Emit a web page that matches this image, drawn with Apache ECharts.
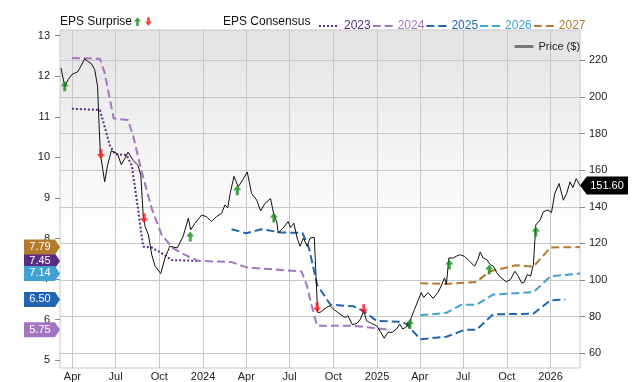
<!DOCTYPE html>
<html><head><meta charset="utf-8">
<script src="https://cdn.jsdelivr.net/npm/echarts@6/dist/echarts.min.js"></script>
<style>html,body{margin:0;padding:0;background:#fff}#chart{width:640px;height:382px}</style>
</head><body><div id="chart"></div>
<script>
const xStart = '2023-03-06', xEnd = '2026-03-04';
const xTickDates = ['2023-04-01','2023-07-01','2023-10-01','2024-01-01','2024-04-01','2024-07-01','2024-10-01','2025-01-01','2025-04-01','2025-07-01','2025-10-01','2026-01-01'];
const xTickLabels = ['Apr','Jul','Oct','2024','Apr','Jul','Oct','2025','Apr','Jul','Oct','2026'];
const epsTicks = [5,6,7,8,9,10,11,12,13];
const priceTicks = [60,80,100,120,140,160,180,200,220];

const priceDates = ['2023-03-08','2023-03-16','2023-03-23','2023-03-31','2023-04-12','2023-04-17','2023-04-27','2023-05-03','2023-05-11','2023-05-18','2023-05-24','2023-05-27','2023-05-30','2023-06-08','2023-06-14','2023-06-22','2023-07-05','2023-07-13','2023-07-20','2023-07-27','2023-08-07','2023-08-17','2023-08-23','2023-08-28','2023-09-01','2023-09-08','2023-09-15','2023-09-22','2023-10-04','2023-10-13','2023-10-23','2023-11-08','2023-11-20','2023-12-01','2023-12-06','2023-12-15','2023-12-29','2024-01-08','2024-01-19','2024-01-29','2024-02-09','2024-02-16','2024-02-22','2024-02-27','2024-03-06','2024-03-15','2024-03-26','2024-04-03','2024-04-12','2024-04-23','2024-05-01','2024-05-10','2024-05-22','2024-05-29','2024-06-04','2024-06-07','2024-06-17','2024-06-28','2024-07-03','2024-07-10','2024-07-17','2024-07-23','2024-07-30','2024-08-07','2024-08-13','2024-08-22','2024-08-26','2024-08-29','2024-09-03','2024-09-17','2024-09-24','2024-10-04','2024-10-15','2024-10-25','2024-11-01','2024-11-10','2024-11-20','2024-11-27','2024-12-04','2024-12-10','2024-12-20','2024-12-31','2025-01-09','2025-01-16','2025-01-24','2025-02-02','2025-02-11','2025-02-18','2025-02-24','2025-03-04','2025-03-07','2025-03-10','2025-03-14','2025-03-21','2025-03-28','2025-04-04','2025-04-09','2025-04-18','2025-04-29','2025-05-09','2025-05-16','2025-05-23','2025-05-27','2025-06-01','2025-06-10','2025-06-17','2025-06-25','2025-07-04','2025-07-15','2025-07-25','2025-08-01','2025-08-06','2025-08-12','2025-08-20','2025-08-27','2025-09-03','2025-09-10','2025-09-19','2025-09-30','2025-10-09','2025-10-18','2025-10-25','2025-11-01','2025-11-06','2025-11-13','2025-11-20','2025-11-26','2025-12-01','2025-12-10','2025-12-17','2025-12-27','2026-01-03','2026-01-10','2026-01-19','2026-01-28','2026-02-04','2026-02-11','2026-02-17','2026-02-24','2026-03-04'];
const priceValues = [215.9,205.9,209.5,212.3,213.7,215.9,220.8,219.5,218.2,215.0,205.9,186.0,168.9,153.6,162.6,170.7,168.9,163.0,166.2,169.8,165.3,162.6,157.2,135.5,129.2,124.7,113.8,107.5,103.5,112.0,118.4,117.5,123.8,133.7,127.4,131.0,135.5,134.6,131.9,134.6,136.4,141.0,139.5,147.3,156.6,150.9,155.4,159.0,147.3,143.6,137.7,141.8,144.5,135.5,131.9,125.6,128.3,131.9,128.7,131.0,122.9,118.4,122.9,118.4,122.9,123.4,123.0,82.3,82.3,85.0,85.9,83.5,81.3,79.5,80.4,75.6,76.3,78.6,83.1,77.7,76.3,75.0,71.4,68.2,71.4,71.4,73.2,75.9,73.2,74.5,76.8,75.0,79.5,84.0,88.6,93.1,90.4,93.1,90.0,93.1,96.7,101.2,97.6,112.0,112.0,113.0,113.8,112.9,110.2,107.5,111.1,115.3,112.0,111.1,108.4,107.5,103.9,101.2,99.0,100.3,104.8,102.1,98.5,98.5,103.0,102.1,108.4,130.1,132.8,137.3,138.2,136.8,147.3,152.7,143.6,147.3,153.6,150.4,155.4,151.6];

const eps2023Dates = ['2023-03-31','2023-05-29','2023-06-19','2023-06-30','2023-07-24','2023-08-04','2023-08-18','2023-08-28','2023-09-15','2023-10-06','2023-10-27','2023-12-20'];
const eps2023Values = [11.20,11.17,10.29,10.08,10.06,9.80,8.66,7.80,7.78,7.64,7.47,7.45];
const eps2024Dates = ['2023-03-31','2023-05-29','2023-06-08','2023-06-27','2023-07-27','2023-08-07','2023-08-25','2023-09-15','2023-10-06','2023-10-30','2023-11-24','2023-12-22','2024-03-01','2024-04-01','2024-07-26','2024-08-06','2024-08-16','2024-08-28','2024-11-13','2025-01-30'];
const eps2024Values = [12.45,12.43,12.08,10.96,10.92,10.53,9.64,8.74,8.09,7.76,7.60,7.45,7.42,7.29,7.19,6.86,6.37,5.85,5.85,5.75];
const eps2025Dates = ['2024-03-01','2024-04-01','2024-05-02','2024-06-13','2024-07-28','2024-08-11','2024-08-28','2024-09-25','2024-11-13','2024-12-04','2024-12-31','2025-02-22','2025-03-04','2025-04-02','2025-05-27','2025-07-04','2025-07-29','2025-09-02','2025-11-26','2026-01-01','2026-02-01'];
const eps2025Values = [8.23,8.13,8.23,8.15,8.14,7.76,6.86,6.37,6.33,6.21,5.97,5.95,5.89,5.52,5.58,5.75,5.75,6.13,6.15,6.48,6.50];
const eps2026Dates = ['2025-04-02','2025-05-27','2025-06-28','2025-07-29','2025-09-02','2025-11-26','2026-01-01','2026-03-04'];
const eps2026Values = [6.11,6.17,6.37,6.37,6.62,6.68,7.07,7.14];
const eps2027Dates = ['2025-04-02','2025-05-27','2025-07-29','2025-08-26','2025-10-20','2025-11-26','2026-01-01','2026-03-04'];
const eps2027Values = [6.90,6.88,6.93,7.19,7.34,7.31,7.78,7.79];

const beatDates = ['2023-03-16','2023-12-05','2024-03-13','2024-05-29','2025-03-11','2025-06-02','2025-08-25','2025-12-01'];
const beatPrices = [205.9,123.8,149.0,134.1,75.9,108.4,105.7,126.5];
const missDates = ['2023-05-31','2023-08-30','2024-08-28','2024-12-04'];
const missPrices = [168.9,133.7,85.0,84.0];

const FONT = "'Liberation Sans', Arial, Helvetica, sans-serif";
const T = d => Date.parse(d);
const xMin = T(xStart), xMax = T(xEnd);
const xTicks = xTickDates.map(T);
const pairs = (ds, vs) => ds.map((d, i) => [T(d), vs[i]]);

const years = [
  {name:'2023', dates:eps2023Dates, values:eps2023Values, color:'#5c2b84', type:'dotted'},
  {name:'2024', dates:eps2024Dates, values:eps2024Values, color:'#a476c1', type:'dashed'},
  {name:'2025', dates:eps2025Dates, values:eps2025Values, color:'#2265b2', type:'dashed'},
  {name:'2026', dates:eps2026Dates, values:eps2026Values, color:'#3fa2d3', type:'dashed'},
  {name:'2027', dates:eps2027Dates, values:eps2027Values, color:'#b27b2e', type:'dashed'}
];

const upArrow = 'path://M4,0L8,5L5.5,5L5.5,10L2.5,10L2.5,5L0,5Z';
const downArrow = 'path://M4,10L8,5L5.5,5L5.5,0L2.5,0L2.5,5L0,5Z';

const series = years.map(y => {
  const last = y.values[y.values.length - 1];
  return {
    name: y.name, type: 'line', yAxisIndex: 0, symbol: 'none', silent: true,
    data: pairs(y.dates, y.values),
    lineStyle: {color: y.color, width: 2, type: y.type},
    itemStyle: {color: y.color},
    z: 2,
    markPoint: {
      silent: true,
      symbol: 'path://M0,0L31,0L36,7L31,14L0,14Z',
      symbolSize: [36, 15], symbolOffset: [-18, 0], symbolKeepAspect: false,
      itemStyle: {color: y.color},
      label: {show: true, color: '#fff', fontSize: 11, fontFamily: FONT, offset: [-2, 0], formatter: p => p.value},
      data: [{coord: [xMin, last], value: last.toFixed(2)}]
    }
  };
});

series.push({
  name: 'Price ($)', type: 'line', yAxisIndex: 1, symbol: 'none', silent: true,
  data: pairs(priceDates, priceValues),
  lineStyle: {color: '#111', width: 1},
  itemStyle: {color: '#111'},
  z: 3,
  markPoint: {
    silent: true,
    symbol: 'path://M0,9L7,0L50,0L50,18L7,18Z',
    symbolSize: [48, 18], symbolOffset: [24, 0], symbolKeepAspect: false,
    itemStyle: {color: '#000'},
    label: {show: true, color: '#fff', fontSize: 11, fontFamily: FONT, offset: [3, 0], formatter: p => p.value},
    data: [{coord: [xMax, priceValues[priceValues.length - 1]], value: priceValues[priceValues.length - 1].toFixed(2)}]
  }
});
series.push({
  name: 'Beat', type: 'scatter', yAxisIndex: 1, silent: true,
  symbol: upArrow, symbolSize: [8, 10], itemStyle: {color: '#138a13'},
  data: pairs(beatDates, beatPrices), z: 5
});
series.push({
  name: 'Miss', type: 'scatter', yAxisIndex: 1, silent: true,
  symbol: downArrow, symbolSize: [8, 10], itemStyle: {color: '#ff1010'},
  data: pairs(missDates, missPrices), z: 5
});

const chart = echarts.init(document.getElementById('chart'), null, {renderer: 'canvas'});
chart.setOption({
  animation: false,
  textStyle: {fontFamily: FONT},
  grid: {
    left: 60, right: 60, top: 30, bottom: 11, show: true,
    borderColor: '#c8c8c8', borderWidth: 1,
    backgroundColor: {type: 'linear', x: 0, y: 0, x2: 0, y2: 1,
      colorStops: [{offset: 0, color: '#e3e3e3'}, {offset: 0.6, color: '#ffffff'}, {offset: 1, color: '#ffffff'}]}
  },
  graphic: [
    {type: 'text', left: 60, top: 16, style: {text: 'EPS Surprise', fill: '#111', font: '12px ' + FONT}},
    {type: 'text', left: 223, top: 16, style: {text: 'EPS Consensus', fill: '#111', font: '12px ' + FONT}}
  ],
  legend: [
    {
      left: 134, top: 17, itemWidth: 7, itemHeight: 9, itemGap: 4, padding: 0,
      formatter: () => '', selectedMode: false,
      data: ['Beat', 'Miss']
    },
    {
      left: 313, top: 15, itemWidth: 20, itemHeight: 10, itemGap: 1, selectedMode: false,
      itemStyle: {opacity: 0},
      textStyle: {fontSize: 12, fontFamily: FONT},
      data: years.map(y => ({name: y.name, textStyle: {color: y.color}}))
    },
    {
      left: 508, top: 36, itemWidth: 19, itemHeight: 10, selectedMode: false,
      itemStyle: {opacity: 0},
      textStyle: {fontSize: 11, color: '#222', fontFamily: FONT},
      data: [{name: 'Price ($)', lineStyle: {color: '#777', width: 3}}]
    }
  ],
  xAxis: {
    type: 'value', min: xMin, max: xMax,
    axisLine: {show: false},
    axisTick: {show: false, customValues: xTicks},
    axisLabel: {customValues: xTicks, margin: 3, fontSize: 11, color: '#222', fontFamily: FONT,
      formatter: v => { const i = xTicks.indexOf(v); return i >= 0 ? xTickLabels[i] : ''; }},
    splitLine: {show: true, lineStyle: {color: '#c8c8c8', width: 1}}
  },
  yAxis: [
    {
      type: 'value', position: 'left', min: 4.81, max: 13.14,
      axisLine: {show: false},
      axisTick: {show: true, length: 5, customValues: epsTicks, lineStyle: {color: '#888'}},
      axisLabel: {customValues: epsTicks, margin: 10, fontSize: 11, color: '#222', fontFamily: FONT},
      splitLine: {show: false}
    },
    {
      type: 'value', position: 'right', min: 51.9, max: 236.6,
      axisLine: {show: false},
      axisTick: {show: true, length: 5, customValues: priceTicks, lineStyle: {color: '#888'}},
      axisLabel: {customValues: priceTicks, margin: 9, fontSize: 11, color: '#222', fontFamily: FONT},
      splitLine: {show: true, lineStyle: {color: '#c8c8c8', width: 1}}
    }
  ],
  series: series
});
</script>
</body></html>
